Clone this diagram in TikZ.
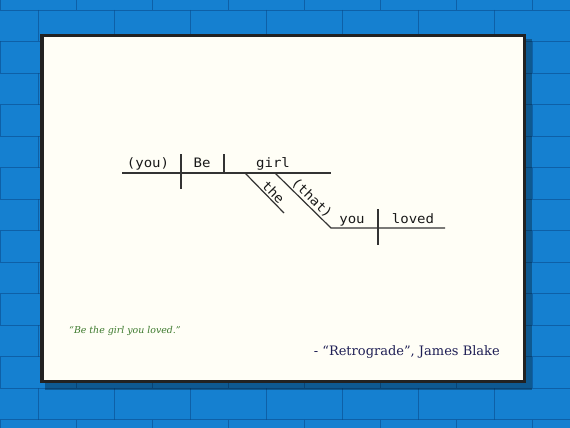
\documentclass[tikz,border=0pt]{standalone}
\usepackage{fontspec}
\newfontfamily\diafont[FakeStretch=1.08]{DejaVu Sans Mono}
\newfontfamily\quotefont{DejaVu Serif}
\definecolor{wall}{HTML}{1580D0}
\definecolor{mortarc}{HTML}{0A4C8C}
\definecolor{framec}{HTML}{222222}
\definecolor{paper}{HTML}{FFFEF6}
\definecolor{linec}{HTML}{333333}
\definecolor{quotec}{HTML}{3D7A2E}
\definecolor{navy}{HTML}{1F1F55}
\tikzset{
  mortar/.style={draw=mortarc, line width=0.9pt, opacity=0.6},
  dline/.style={draw=linec, line width=1.2pt},
  word/.style={font=\diafont\fontsize{13}{15}\selectfont, text=black!90, inner sep=0pt, anchor=base},
  slword/.style={font=\diafont\fontsize{13}{15}\selectfont, text=black!90, inner sep=1.5pt, sloped, above},
}
\begin{document}
\begin{tikzpicture}[x=1pt,y=-1pt]
\useasboundingbox (0,0) rectangle (570,428);
% wall
\fill[wall] (0,0) rectangle (570,428);
\foreach \r in {-1,...,13}{
  \pgfmathsetmacro\yy{10+31.5*\r}
  \pgfmathsetmacro\off{mod(\r+1,2)*38}
  \draw[mortar] (0,\yy) -- (570,\yy);
  \foreach \k in {-1,...,7}{
    \draw[mortar] (\off+76*\k,\yy) -- ++(0,31.5);
  }
}
% shadow and frame
\fill[black, opacity=0.3] (45,39) rectangle (532,390);
\draw[line width=3.5pt, draw=framec, fill=paper] (41.75,35.75) rectangle (524.25,381.25);
% diagram coordinates
\coordinate (mainL) at (122,173);
\coordinate (mainR) at (331,173);
\coordinate (d1t) at (181,154);
\coordinate (d1b) at (181,189);
\coordinate (d2t) at (224,154);
\coordinate (d2b) at (224,173);
\coordinate (theA) at (245,173);
\coordinate (theB) at (284,213);
\coordinate (thatA) at (275,173);
\coordinate (lowL) at (331,228);
\coordinate (lowR) at (445,228);
\coordinate (d3t) at (378,209);
\coordinate (d3b) at (378,245);
% lines
\draw[dline] (mainL) -- (mainR);
\draw[dline] (d1t) -- (d1b);
\draw[dline] (d2t) -- (d2b);
\draw[dline] (theA) -- node[slword, pos=0.6] (the) {the} (theB);
\draw[dline, line join=miter] (thatA) -- node[slword, pos=0.56] (that) {(that)} (lowL) -- (lowR);
\draw[dline] (d3t) -- (d3b);
% words
\node[word] (you1) at (148,167) {(you)};
\node[word] (be) at (202,167) {Be};
\node[word] (girl) at (273,167) {girl};
\node[word] (you2) at (352,223) {you};
\node[word] (loved) at (413,223) {loved};
% quotes
\node[font=\quotefont\itshape\fontsize{9.4}{11}\selectfont, text=quotec, anchor=west, inner sep=0pt] (quote) at (69,331) {“Be the girl you loved.”};
\node[font=\quotefont\fontsize{13}{16}\selectfont, text=navy, anchor=east, inner sep=0pt] (attr) at (500,352) {- “Retrograde”, James Blake};
\end{tikzpicture}
\end{document}
